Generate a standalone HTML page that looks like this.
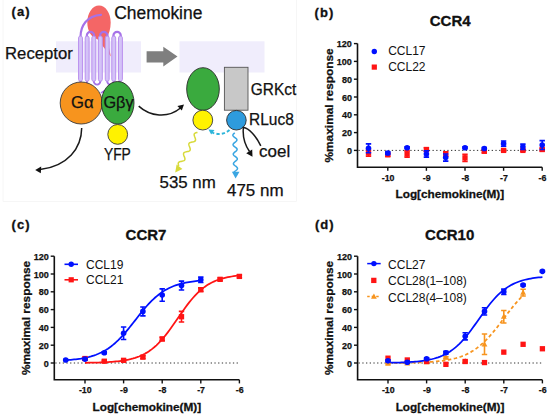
<!DOCTYPE html><html><head><meta charset="utf-8"><style>html,body{margin:0;padding:0;background:#fff;overflow:hidden}svg{display:block}text{font-family:"Liberation Sans",sans-serif}</style></head><body>
<svg width="550" height="418" viewBox="0 0 550 418">
<rect width="550" height="418" fill="#fff"/>
<path d="M3,0 V201.5 H296.5 V0" fill="none" stroke="#F6F6F6" stroke-width="1"/>
<text x="11.6" y="16.3" font-size="13" font-weight="bold" letter-spacing="1.1" fill="#111" stroke="#111" stroke-width="0.3">(a)</text>
<text x="314.6" y="16.8" font-size="13" font-weight="bold" letter-spacing="1.1" fill="#111" stroke="#111" stroke-width="0.3">(b)</text>
<text x="11.6" y="229.3" font-size="13" font-weight="bold" letter-spacing="1.1" fill="#111" stroke="#111" stroke-width="0.3">(c)</text>
<text x="314.9" y="229.3" font-size="13" font-weight="bold" letter-spacing="1.1" fill="#111" stroke="#111" stroke-width="0.3">(d)</text>
<rect x="56" y="41.3" width="85" height="31.2" fill="#F0EDFC"/>
<rect x="179.5" y="41.3" width="85" height="31.2" fill="#F0EDFC"/>
<path d="M146.6,51.3 H163.3 V46.7 L177.5,56.6 L163.3,66.5 V62.5 H146.6 Z" fill="#7F7F7F"/>
<path d="M99,5.5 C105.5,5.5 110.7,13 110.7,22.5 C110.7,29 108.8,34 107,37.5 L110.8,56.5 L97.5,39.3 C91.5,37.5 87.3,31 87.3,22.5 C87.3,13 92.5,5.5 99,5.5 Z" fill="#F46666"/>
<path d="M86.85,37.0 V35.70 A3.62,3.82 0 0 1 94.10,35.70 V37.0" fill="none" stroke="#A672E8" stroke-width="2.3"/>
<path d="M100.05,37.0 V35.70 A3.73,3.93 0 0 1 107.50,35.70 V37.0" fill="none" stroke="#A672E8" stroke-width="2.3"/>
<path d="M113.45,37.0 V35.70 A3.65,3.85 0 0 1 120.75,35.70 V37.0" fill="none" stroke="#A672E8" stroke-width="2.3"/>
<path d="M80.50,80.30 V81.3 A3.33,3.33 0 0 0 87.15,81.3 V80.30" fill="none" stroke="#A672E8" stroke-width="1.9"/>
<path d="M93.80,80.30 V81.3 A3.27,3.27 0 0 0 100.35,81.3 V80.30" fill="none" stroke="#A672E8" stroke-width="1.9"/>
<path d="M107.20,80.30 V81.3 A3.27,3.27 0 0 0 113.75,81.3 V80.30" fill="none" stroke="#A672E8" stroke-width="1.9"/>
<path d="M80.5,37.0 C80.5,26 87,15.5 101,14.8" fill="none" stroke="#A672E8" stroke-width="2.2" stroke-linecap="round"/>
<path d="M120.45,80.3 C121,88 106,88 101,93" fill="none" stroke="#A672E8" stroke-width="1.6"/>
<rect x="78.55" y="36.0" width="3.9" height="45.30" rx="1.95" fill="#D4C3F7" stroke="#BA90EF" stroke-width="1"/>
<rect x="85.20" y="36.0" width="3.9" height="45.30" rx="1.95" fill="#D4C3F7" stroke="#BA90EF" stroke-width="1"/>
<rect x="91.85" y="36.0" width="3.9" height="45.30" rx="1.95" fill="#D4C3F7" stroke="#BA90EF" stroke-width="1"/>
<rect x="98.40" y="36.0" width="3.9" height="45.30" rx="1.95" fill="#D4C3F7" stroke="#BA90EF" stroke-width="1"/>
<rect x="105.25" y="36.0" width="3.9" height="45.30" rx="1.95" fill="#D4C3F7" stroke="#BA90EF" stroke-width="1"/>
<rect x="111.80" y="36.0" width="3.9" height="45.30" rx="1.95" fill="#D4C3F7" stroke="#BA90EF" stroke-width="1"/>
<rect x="118.50" y="36.0" width="3.9" height="45.30" rx="1.95" fill="#D4C3F7" stroke="#BA90EF" stroke-width="1"/>
<circle cx="81.2" cy="103" r="21" fill="#F7941E" stroke="#3a3a3a" stroke-width="0.9"/>
<ellipse cx="117.7" cy="102.8" rx="16.3" ry="21.3" fill="#3AAA3E" stroke="#2a2a2a" stroke-width="0.9"/>
<circle cx="117.7" cy="134.4" r="9.9" fill="#FFF200" stroke="#3a3a3a" stroke-width="0.9"/>
<text x="114.2" y="18.6" font-size="17.6" fill="#111" stroke="#111" stroke-width="0.25" textLength="88.2" lengthAdjust="spacingAndGlyphs">Chemokine</text>
<text x="5.1" y="59" font-size="16.2" fill="#111" stroke="#111" stroke-width="0.25" textLength="67.6" lengthAdjust="spacingAndGlyphs">Receptor</text>
<text x="71.0" y="108.3" font-size="16" fill="#111" stroke="#111" stroke-width="0.25" textLength="22.6" lengthAdjust="spacingAndGlyphs">G&#945;</text>
<text x="103.4" y="108" font-size="16" fill="#111" stroke="#111" stroke-width="0.25" textLength="30.2" lengthAdjust="spacingAndGlyphs">G&#946;&#947;</text>
<text x="104" y="159.9" font-size="16" fill="#111" stroke="#111" stroke-width="0.25" textLength="26.8" lengthAdjust="spacingAndGlyphs">YFP</text>
<path d="M81.7,128 C81.5,148 68,166 40,169.6" fill="none" stroke="#1a1a1a" stroke-width="1.5"/>
<path d="M35.2,170 L41.2,166.5 L40.8,173.2 Z" fill="#111"/>
<path d="M138.7,106.1 C150,116.5 168,118.5 180.5,108" fill="none" stroke="#1a1a1a" stroke-width="1.5"/>
<path d="M184,104.5 L177.4,106 L181.8,110.4 Z" fill="#111"/>
<ellipse cx="203" cy="89" rx="16.3" ry="21.3" fill="#3AAA3E" stroke="#2a2a2a" stroke-width="0.9"/>
<circle cx="202.8" cy="120.1" r="9.9" fill="#FFF200" stroke="#3a3a3a" stroke-width="0.9"/>
<rect x="224.4" y="67.3" width="23.6" height="42.9" fill="#C8C8C8" stroke="#555" stroke-width="0.9"/>
<circle cx="236.4" cy="120.2" r="9.8" fill="#2E9BDD" stroke="#2a2a2a" stroke-width="0.9"/>
<text x="250.8" y="94.6" font-size="16" fill="#111" stroke="#111" stroke-width="0.25" textLength="45.4" lengthAdjust="spacingAndGlyphs">GRKct</text>
<text x="249.1" y="124.5" font-size="16" fill="#111" stroke="#111" stroke-width="0.25" textLength="44.7" lengthAdjust="spacingAndGlyphs">RLuc8</text>
<text x="259.1" y="157.3" font-size="16" fill="#111" stroke="#111" stroke-width="0.25" textLength="31.1" lengthAdjust="spacingAndGlyphs">coel</text>
<text x="159.5" y="188.0" font-size="17" fill="#111" stroke="#111" stroke-width="0.25" textLength="56.3" lengthAdjust="spacingAndGlyphs">535 nm</text>
<text x="227" y="196.3" font-size="17" fill="#111" stroke="#111" stroke-width="0.25" textLength="56.6" lengthAdjust="spacingAndGlyphs">475 nm</text>
<path d="M260.8,145.8 C256,136 249,128 243.4,127.4 C242.5,136 245,145 249.5,151.5" fill="none" stroke="#1a1a1a" stroke-width="1.5"/>
<path d="M252.5,156.8 L246.2,153.2 L252.2,149.6 Z" fill="#111"/>
<path d="M229.5,130 C224,135 216,135 211.5,132" fill="none" stroke="#2DB5DA" stroke-width="2" stroke-dasharray="3.2,2.2"/>
<path d="M208.5,129.6 L214.5,130 L211.2,134.6 Z" fill="#2DB5DA"/>
<path d="M197.50,132.40 L196.73,132.55 L196.01,132.73 L195.37,132.96 L194.84,133.24 L194.46,133.61 L194.22,134.05 L194.14,134.58 L194.19,135.19 L194.35,135.85 L194.59,136.56 L194.88,137.29 L195.15,138.02 L195.38,138.72 L195.53,139.38 L195.55,139.97 L195.44,140.48 L195.17,140.91 L194.75,141.26 L194.20,141.53 L193.54,141.74 L192.81,141.91 L192.04,142.07 L191.28,142.22 L190.57,142.41 L189.95,142.64 L189.45,142.95 L189.09,143.33 L188.89,143.79 L188.83,144.34 L188.91,144.95 L189.09,145.63 L189.35,146.35 L189.63,147.08 L189.90,147.80 L190.12,148.50 L190.24,149.14 L190.23,149.72 L190.09,150.21 L189.79,150.62 L189.35,150.96 L188.77,151.21 L188.09,151.42 L187.34,151.58 L186.57,151.73 L185.82,151.89 L185.13,152.09 L184.53,152.34 L184.06,152.65 L183.73,153.05 L183.56,153.53 L183.53,154.09 L183.63,154.72 L183.83,155.41 L184.10,156.13 L184.38,156.86 L184.64,157.59 L184.84,158.27 L184.94,158.90 L184.91,159.46 L184.73,159.94 L184.41,160.33 L183.93,160.65 L183.33,160.90 L182.64,161.09 L181.88,161.25 L181.11,161.40 L180.37,161.57 L179.69,161.77 L179.12,162.03 L178.67,162.36 L178.38,162.78 L178.24,163.28 L178.24,163.85 L178.36,164.50 L178.58,165.19 L178.85,165.92" fill="none" stroke="#D8DA3A" stroke-width="1.5"/>
<path d="M175.2,172.4 L176.6,164.4 L182.4,168.9 Z" fill="#D8DA3A"/>
<path d="M234.80,132.80 L234.16,133.32 L233.59,133.83 L233.15,134.34 L232.90,134.85 L232.86,135.35 L233.04,135.85 L233.42,136.35 L233.95,136.84 L234.59,137.33 L235.26,137.82 L235.90,138.31 L236.42,138.80 L236.78,139.30 L236.94,139.80 L236.88,140.30 L236.60,140.81 L236.15,141.32 L235.57,141.83 L234.93,142.35 L234.29,142.87 L233.73,143.38 L233.31,143.89 L233.08,144.40 L233.06,144.90 L233.26,145.40 L233.65,145.89 L234.21,146.39 L234.85,146.88 L235.52,147.36 L236.15,147.85 L236.66,148.35 L237.00,148.84 L237.13,149.34 L237.05,149.85 L236.76,150.36 L236.29,150.87 L235.70,151.38 L235.05,151.90 L234.42,152.41 L233.87,152.93 L233.47,153.44 L233.26,153.95 L233.26,154.45 L233.48,154.95 L233.90,155.44 L234.46,155.93 L235.11,156.42 L235.78,156.91 L236.39,157.40 L236.89,157.89 L237.21,158.39 L237.33,158.89 L237.22,159.40 L236.91,159.91 L236.43,160.42 L235.83,160.93 L235.18,161.45 L234.55,161.96 L234.01,162.48 L233.63,162.99 L233.44,163.49 L233.46,164.00 L233.71,164.49 L234.14,164.99 L234.71,165.48 L235.37,165.97 L236.04,166.46 L236.64,166.95 L237.12,167.44 L237.42,167.94 L237.52,168.44 L237.39,168.94 L237.06,169.45 L236.56,169.97 L235.96,170.48 L235.31,171.00 L234.68,171.51 L234.16,172.03 L233.79,172.54" fill="none" stroke="#3AA6E2" stroke-width="1.5"/>
<path d="M235.6,178.6 L231.9,171.8 L239.5,171.8 Z" fill="#3AA6E2"/>
<text x="450.2" y="26.2" font-size="15" font-weight="bold" text-anchor="middle" fill="#111" stroke="#111" stroke-width="0.3">CCR4</text>
<line x1="358.50" y1="150.4" x2="542.20" y2="150.4" stroke="#333" stroke-width="1" stroke-dasharray="1.3,2.4"/>
<path d="M357.5,43.60 V167.2 H542.20" fill="none" stroke="#111" stroke-width="1.6"/>
<line x1="353.90" y1="150.40" x2="357.5" y2="150.40" stroke="#111" stroke-width="1.4"/>
<text x="351.90" y="154.00" font-size="9" font-weight="bold" text-anchor="end" fill="#111" stroke="#111" stroke-width="0.25">0</text>
<line x1="353.90" y1="132.60" x2="357.5" y2="132.60" stroke="#111" stroke-width="1.4"/>
<text x="351.90" y="136.20" font-size="9" font-weight="bold" text-anchor="end" fill="#111" stroke="#111" stroke-width="0.25">20</text>
<line x1="353.90" y1="114.80" x2="357.5" y2="114.80" stroke="#111" stroke-width="1.4"/>
<text x="351.90" y="118.40" font-size="9" font-weight="bold" text-anchor="end" fill="#111" stroke="#111" stroke-width="0.25">40</text>
<line x1="353.90" y1="97.00" x2="357.5" y2="97.00" stroke="#111" stroke-width="1.4"/>
<text x="351.90" y="100.60" font-size="9" font-weight="bold" text-anchor="end" fill="#111" stroke="#111" stroke-width="0.25">60</text>
<line x1="353.90" y1="79.20" x2="357.5" y2="79.20" stroke="#111" stroke-width="1.4"/>
<text x="351.90" y="82.80" font-size="9" font-weight="bold" text-anchor="end" fill="#111" stroke="#111" stroke-width="0.25">80</text>
<line x1="353.90" y1="61.40" x2="357.5" y2="61.40" stroke="#111" stroke-width="1.4"/>
<text x="351.90" y="65.00" font-size="9" font-weight="bold" text-anchor="end" fill="#111" stroke="#111" stroke-width="0.25">100</text>
<line x1="353.90" y1="43.60" x2="357.5" y2="43.60" stroke="#111" stroke-width="1.4"/>
<text x="351.90" y="47.20" font-size="9" font-weight="bold" text-anchor="end" fill="#111" stroke="#111" stroke-width="0.25">120</text>
<line x1="387.80" y1="167.2" x2="387.80" y2="170.80" stroke="#111" stroke-width="1.4"/>
<text x="388.10" y="180.60" font-size="8.8" font-weight="bold" text-anchor="middle" fill="#111" stroke="#111" stroke-width="0.25">-10</text>
<line x1="426.40" y1="167.2" x2="426.40" y2="170.80" stroke="#111" stroke-width="1.4"/>
<text x="426.70" y="180.60" font-size="8.8" font-weight="bold" text-anchor="middle" fill="#111" stroke="#111" stroke-width="0.25">-9</text>
<line x1="465.00" y1="167.2" x2="465.00" y2="170.80" stroke="#111" stroke-width="1.4"/>
<text x="465.30" y="180.60" font-size="8.8" font-weight="bold" text-anchor="middle" fill="#111" stroke="#111" stroke-width="0.25">-8</text>
<line x1="503.60" y1="167.2" x2="503.60" y2="170.80" stroke="#111" stroke-width="1.4"/>
<text x="503.90" y="180.60" font-size="8.8" font-weight="bold" text-anchor="middle" fill="#111" stroke="#111" stroke-width="0.25">-7</text>
<line x1="542.20" y1="167.2" x2="542.20" y2="170.80" stroke="#111" stroke-width="1.4"/>
<text x="542.50" y="180.60" font-size="8.8" font-weight="bold" text-anchor="middle" fill="#111" stroke="#111" stroke-width="0.25">-6</text>
<text transform="translate(333.10,105.40) rotate(-90) scale(1,0.88)" x="0" y="0" font-size="11.9" font-weight="bold" text-anchor="middle" fill="#111" stroke="#111" stroke-width="0.3">%maximal response</text>
<text transform="translate(449.85,198.30) scale(1,0.92)" x="0" y="0" font-size="11.8" font-weight="bold" text-anchor="middle" fill="#111" stroke="#111" stroke-width="0.3">Log[chemokine(M)]</text>
<circle cx="374.30" cy="51.50" r="2.7" fill="#0010FF"/>
<text x="388.2" y="55.4" font-size="12" fill="#111">CCL17</text>
<rect x="371.70" y="64.50" width="5.2" height="5.2" fill="#FF1414"/>
<text x="388.2" y="71.0" font-size="12" fill="#111">CCL22</text>
<path d="M368.50,149.96 V156.19 M365.80,149.96 H371.20 M365.80,156.19 H371.20" stroke="#FF1414" stroke-width="1.6" fill="none"/>
<rect x="365.85" y="150.42" width="5.3" height="5.3" fill="#FF1414"/>
<path d="M387.80,153.52 V156.19 M385.10,153.52 H390.50 M385.10,156.19 H390.50" stroke="#FF1414" stroke-width="1.6" fill="none"/>
<rect x="385.15" y="152.20" width="5.3" height="5.3" fill="#FF1414"/>
<path d="M407.10,150.84 V157.08 M404.40,150.84 H409.80 M404.40,157.08 H409.80" stroke="#FF1414" stroke-width="1.6" fill="none"/>
<rect x="404.45" y="151.31" width="5.3" height="5.3" fill="#FF1414"/>
<path d="M426.40,147.73 V151.29 M423.70,147.73 H429.10 M423.70,151.29 H429.10" stroke="#FF1414" stroke-width="1.6" fill="none"/>
<rect x="423.75" y="146.86" width="5.3" height="5.3" fill="#FF1414"/>
<path d="M445.70,151.74 V156.19 M443.00,151.74 H448.40 M443.00,156.19 H448.40" stroke="#FF1414" stroke-width="1.6" fill="none"/>
<rect x="443.05" y="151.31" width="5.3" height="5.3" fill="#FF1414"/>
<path d="M465.00,154.23 V161.35 M462.30,154.23 H467.70 M462.30,161.35 H467.70" stroke="#FF1414" stroke-width="1.6" fill="none"/>
<rect x="462.35" y="155.14" width="5.3" height="5.3" fill="#FF1414"/>
<path d="M484.30,149.96 V152.62 M481.60,149.96 H487.00 M481.60,152.62 H487.00" stroke="#FF1414" stroke-width="1.6" fill="none"/>
<rect x="481.65" y="148.64" width="5.3" height="5.3" fill="#FF1414"/>
<path d="M503.60,149.51 V151.29 M500.90,149.51 H506.30 M500.90,151.29 H506.30" stroke="#FF1414" stroke-width="1.6" fill="none"/>
<rect x="500.95" y="147.75" width="5.3" height="5.3" fill="#FF1414"/>
<path d="M522.90,149.51 V151.29 M520.20,149.51 H525.60 M520.20,151.29 H525.60" stroke="#FF1414" stroke-width="1.6" fill="none"/>
<rect x="520.25" y="147.75" width="5.3" height="5.3" fill="#FF1414"/>
<path d="M542.20,148.18 V150.84 M539.50,148.18 H544.90 M539.50,150.84 H544.90" stroke="#FF1414" stroke-width="1.6" fill="none"/>
<rect x="539.55" y="146.86" width="5.3" height="5.3" fill="#FF1414"/>
<path d="M368.50,143.90 V152.80 M365.80,143.90 H371.20 M365.80,152.80 H371.20" stroke="#0010FF" stroke-width="1.6" fill="none"/>
<circle cx="368.50" cy="148.35" r="2.8" fill="#0010FF"/>
<path d="M387.80,151.74 V154.41 M385.10,151.74 H390.50 M385.10,154.41 H390.50" stroke="#0010FF" stroke-width="1.6" fill="none"/>
<circle cx="387.80" cy="153.07" r="2.8" fill="#0010FF"/>
<path d="M407.10,146.84 V148.62 M404.40,146.84 H409.80 M404.40,148.62 H409.80" stroke="#0010FF" stroke-width="1.6" fill="none"/>
<circle cx="407.10" cy="147.73" r="2.8" fill="#0010FF"/>
<path d="M426.40,150.84 V157.08 M423.70,150.84 H429.10 M423.70,157.08 H429.10" stroke="#0010FF" stroke-width="1.6" fill="none"/>
<circle cx="426.40" cy="153.96" r="2.8" fill="#0010FF"/>
<path d="M445.70,153.96 V161.08 M443.00,153.96 H448.40 M443.00,161.08 H448.40" stroke="#0010FF" stroke-width="1.6" fill="none"/>
<circle cx="445.70" cy="157.52" r="2.8" fill="#0010FF"/>
<path d="M465.00,146.84 V148.62 M462.30,146.84 H467.70 M462.30,148.62 H467.70" stroke="#0010FF" stroke-width="1.6" fill="none"/>
<circle cx="465.00" cy="147.73" r="2.8" fill="#0010FF"/>
<path d="M484.30,147.55 V149.33 M481.60,147.55 H487.00 M481.60,149.33 H487.00" stroke="#0010FF" stroke-width="1.6" fill="none"/>
<circle cx="484.30" cy="148.44" r="2.8" fill="#0010FF"/>
<path d="M503.60,140.97 V146.31 M500.90,140.97 H506.30 M500.90,146.31 H506.30" stroke="#0010FF" stroke-width="1.6" fill="none"/>
<circle cx="503.60" cy="143.64" r="2.8" fill="#0010FF"/>
<path d="M522.90,144.17 V149.51 M520.20,144.17 H525.60 M520.20,149.51 H525.60" stroke="#0010FF" stroke-width="1.6" fill="none"/>
<circle cx="522.90" cy="146.84" r="2.8" fill="#0010FF"/>
<path d="M542.20,140.61 V149.51 M539.50,140.61 H544.90 M539.50,149.51 H544.90" stroke="#0010FF" stroke-width="1.6" fill="none"/>
<circle cx="542.20" cy="145.06" r="2.8" fill="#0010FF"/>
<text x="146.0" y="239.9" font-size="15" font-weight="bold" text-anchor="middle" fill="#111" stroke="#111" stroke-width="0.3">CCR7</text>
<line x1="55.30" y1="363.0" x2="239.40" y2="363.0" stroke="#333" stroke-width="1" stroke-dasharray="1.3,2.4"/>
<path d="M54.3,256.20 V379.8 H239.40" fill="none" stroke="#111" stroke-width="1.6"/>
<line x1="50.70" y1="363.00" x2="54.3" y2="363.00" stroke="#111" stroke-width="1.4"/>
<text x="48.70" y="366.60" font-size="9" font-weight="bold" text-anchor="end" fill="#111" stroke="#111" stroke-width="0.25">0</text>
<line x1="50.70" y1="345.20" x2="54.3" y2="345.20" stroke="#111" stroke-width="1.4"/>
<text x="48.70" y="348.80" font-size="9" font-weight="bold" text-anchor="end" fill="#111" stroke="#111" stroke-width="0.25">20</text>
<line x1="50.70" y1="327.40" x2="54.3" y2="327.40" stroke="#111" stroke-width="1.4"/>
<text x="48.70" y="331.00" font-size="9" font-weight="bold" text-anchor="end" fill="#111" stroke="#111" stroke-width="0.25">40</text>
<line x1="50.70" y1="309.60" x2="54.3" y2="309.60" stroke="#111" stroke-width="1.4"/>
<text x="48.70" y="313.20" font-size="9" font-weight="bold" text-anchor="end" fill="#111" stroke="#111" stroke-width="0.25">60</text>
<line x1="50.70" y1="291.80" x2="54.3" y2="291.80" stroke="#111" stroke-width="1.4"/>
<text x="48.70" y="295.40" font-size="9" font-weight="bold" text-anchor="end" fill="#111" stroke="#111" stroke-width="0.25">80</text>
<line x1="50.70" y1="274.00" x2="54.3" y2="274.00" stroke="#111" stroke-width="1.4"/>
<text x="48.70" y="277.60" font-size="9" font-weight="bold" text-anchor="end" fill="#111" stroke="#111" stroke-width="0.25">100</text>
<line x1="50.70" y1="256.20" x2="54.3" y2="256.20" stroke="#111" stroke-width="1.4"/>
<text x="48.70" y="259.80" font-size="9" font-weight="bold" text-anchor="end" fill="#111" stroke="#111" stroke-width="0.25">120</text>
<line x1="85.00" y1="379.8" x2="85.00" y2="383.40" stroke="#111" stroke-width="1.4"/>
<text x="85.30" y="393.20" font-size="8.8" font-weight="bold" text-anchor="middle" fill="#111" stroke="#111" stroke-width="0.25">-10</text>
<line x1="123.60" y1="379.8" x2="123.60" y2="383.40" stroke="#111" stroke-width="1.4"/>
<text x="123.90" y="393.20" font-size="8.8" font-weight="bold" text-anchor="middle" fill="#111" stroke="#111" stroke-width="0.25">-9</text>
<line x1="162.20" y1="379.8" x2="162.20" y2="383.40" stroke="#111" stroke-width="1.4"/>
<text x="162.50" y="393.20" font-size="8.8" font-weight="bold" text-anchor="middle" fill="#111" stroke="#111" stroke-width="0.25">-8</text>
<line x1="200.80" y1="379.8" x2="200.80" y2="383.40" stroke="#111" stroke-width="1.4"/>
<text x="201.10" y="393.20" font-size="8.8" font-weight="bold" text-anchor="middle" fill="#111" stroke="#111" stroke-width="0.25">-7</text>
<line x1="239.40" y1="379.8" x2="239.40" y2="383.40" stroke="#111" stroke-width="1.4"/>
<text x="239.70" y="393.20" font-size="8.8" font-weight="bold" text-anchor="middle" fill="#111" stroke="#111" stroke-width="0.25">-6</text>
<text transform="translate(29.90,318.00) rotate(-90) scale(1,0.88)" x="0" y="0" font-size="11.9" font-weight="bold" text-anchor="middle" fill="#111" stroke="#111" stroke-width="0.3">%maximal response</text>
<text transform="translate(146.85,410.90) scale(1,0.92)" x="0" y="0" font-size="11.8" font-weight="bold" text-anchor="middle" fill="#111" stroke="#111" stroke-width="0.3">Log[chemokine(M)]</text>
<line x1="64.5" y1="264.3" x2="78" y2="264.3" stroke="#0010FF" stroke-width="1.6"/>
<circle cx="71.20" cy="264.30" r="2.7" fill="#0010FF"/>
<text x="86" y="268.9" font-size="12" fill="#111">CCL19</text>
<line x1="64.5" y1="279.8" x2="78" y2="279.8" stroke="#FF1414" stroke-width="1.6"/>
<rect x="68.60" y="277.20" width="5.2" height="5.2" fill="#FF1414"/>
<text x="86" y="284.4" font-size="12" fill="#111">CCL21</text>
<polyline points="65.70,360.18 67.39,360.06 69.08,359.94 70.77,359.80 72.46,359.64 74.14,359.47 75.83,359.28 77.52,359.07 79.21,358.83 80.90,358.58 82.59,358.29 84.28,357.98 85.97,357.63 87.65,357.25 89.34,356.83 91.03,356.37 92.72,355.86 94.41,355.31 96.10,354.70 97.79,354.04 99.47,353.32 101.16,352.53 102.85,351.67 104.54,350.74 106.23,349.74 107.92,348.65 109.61,347.49 111.30,346.23 112.98,344.89 114.67,343.47 116.36,341.95 118.05,340.35 119.74,338.67 121.43,336.90 123.12,335.05 124.81,333.13 126.49,331.15 128.18,329.11 129.87,327.02 131.56,324.90 133.25,322.75 134.94,320.59 136.63,318.43 138.32,316.27 140.01,314.14 141.69,312.04 143.38,309.99 145.07,307.99 146.76,306.05 148.45,304.18 150.14,302.39 151.83,300.68 153.52,299.05 155.20,297.52 156.89,296.06 158.58,294.70 160.27,293.42 161.96,292.23 163.65,291.12 165.34,290.10 167.03,289.15 168.71,288.27 170.40,287.46 172.09,286.72 173.78,286.04 175.47,285.42 177.16,284.85 178.85,284.33 180.53,283.86 182.22,283.43 183.91,283.03 185.60,282.68 187.29,282.36 188.98,282.06 190.67,281.80 192.36,281.56 194.05,281.34 195.73,281.14 197.42,280.97 199.11,280.81 200.80,280.66" fill="none" stroke="#0010FF" stroke-width="1.75"/>
<polyline points="85.00,362.80 86.93,362.77 88.86,362.74 90.79,362.70 92.72,362.66 94.65,362.62 96.58,362.57 98.51,362.51 100.44,362.44 102.37,362.37 104.30,362.28 106.23,362.19 108.16,362.08 110.09,361.95 112.02,361.82 113.95,361.66 115.88,361.48 117.81,361.28 119.74,361.05 121.67,360.79 123.60,360.51 125.53,360.18 127.46,359.81 129.39,359.40 131.32,358.93 133.25,358.41 135.18,357.83 137.11,357.18 139.04,356.45 140.97,355.64 142.90,354.74 144.83,353.74 146.76,352.63 148.69,351.42 150.62,350.08 152.55,348.62 154.48,347.02 156.41,345.30 158.34,343.43 160.27,341.43 162.20,339.29 164.13,337.03 166.06,334.64 167.99,332.14 169.92,329.54 171.85,326.85 173.78,324.11 175.71,321.31 177.64,318.50 179.57,315.69 181.50,312.89 183.43,310.15 185.36,307.46 187.29,304.86 189.22,302.36 191.15,299.97 193.08,297.71 195.01,295.57 196.94,293.57 198.87,291.70 200.80,289.98 202.73,288.38 204.66,286.92 206.59,285.58 208.52,284.37 210.45,283.26 212.38,282.26 214.31,281.36 216.24,280.55 218.17,279.82 220.10,279.17 222.03,278.59 223.96,278.07 225.89,277.60 227.82,277.19 229.75,276.82 231.68,276.49 233.61,276.21 235.54,275.95 237.47,275.72 239.40,275.52" fill="none" stroke="#FF1414" stroke-width="1.75"/>
<path d="M85.00,357.21 V359.88 M82.30,357.21 H87.70 M82.30,359.88 H87.70" stroke="#FF1414" stroke-width="1.6" fill="none"/>
<rect x="82.35" y="355.90" width="5.3" height="5.3" fill="#FF1414"/>
<path d="M104.30,360.33 V362.11 M101.60,360.33 H107.00 M101.60,362.11 H107.00" stroke="#FF1414" stroke-width="1.6" fill="none"/>
<rect x="101.65" y="358.57" width="5.3" height="5.3" fill="#FF1414"/>
<path d="M123.60,359.44 V361.22 M120.90,359.44 H126.30 M120.90,361.22 H126.30" stroke="#FF1414" stroke-width="1.6" fill="none"/>
<rect x="120.95" y="357.68" width="5.3" height="5.3" fill="#FF1414"/>
<path d="M142.90,355.79 V358.46 M140.20,355.79 H145.60 M140.20,358.46 H145.60" stroke="#FF1414" stroke-width="1.6" fill="none"/>
<rect x="140.25" y="354.48" width="5.3" height="5.3" fill="#FF1414"/>
<path d="M162.20,337.19 V340.75 M159.50,337.19 H164.90 M159.50,340.75 H164.90" stroke="#FF1414" stroke-width="1.6" fill="none"/>
<rect x="159.55" y="336.32" width="5.3" height="5.3" fill="#FF1414"/>
<path d="M181.50,311.38 V322.06 M178.80,311.38 H184.20 M178.80,322.06 H184.20" stroke="#FF1414" stroke-width="1.6" fill="none"/>
<rect x="178.85" y="314.07" width="5.3" height="5.3" fill="#FF1414"/>
<path d="M200.80,287.88 V291.44 M198.10,287.88 H203.50 M198.10,291.44 H203.50" stroke="#FF1414" stroke-width="1.6" fill="none"/>
<rect x="198.15" y="287.01" width="5.3" height="5.3" fill="#FF1414"/>
<path d="M220.10,278.00 V280.68 M217.40,278.00 H222.80 M217.40,280.68 H222.80" stroke="#FF1414" stroke-width="1.6" fill="none"/>
<rect x="217.45" y="276.69" width="5.3" height="5.3" fill="#FF1414"/>
<path d="M239.40,275.07 V277.74 M236.70,275.07 H242.10 M236.70,277.74 H242.10" stroke="#FF1414" stroke-width="1.6" fill="none"/>
<rect x="236.75" y="273.75" width="5.3" height="5.3" fill="#FF1414"/>
<path d="M65.70,359.53 V360.42 M63.00,359.53 H68.40 M63.00,360.42 H68.40" stroke="#0010FF" stroke-width="1.6" fill="none"/>
<circle cx="65.70" cy="359.97" r="2.8" fill="#0010FF"/>
<path d="M85.00,358.19 V359.97 M82.30,358.19 H87.70 M82.30,359.97 H87.70" stroke="#0010FF" stroke-width="1.6" fill="none"/>
<circle cx="85.00" cy="359.08" r="2.8" fill="#0010FF"/>
<path d="M104.30,351.88 V353.65 M101.60,351.88 H107.00 M101.60,353.65 H107.00" stroke="#0010FF" stroke-width="1.6" fill="none"/>
<circle cx="104.30" cy="352.76" r="2.8" fill="#0010FF"/>
<path d="M123.60,327.04 V339.50 M120.90,327.04 H126.30 M120.90,339.50 H126.30" stroke="#0010FF" stroke-width="1.6" fill="none"/>
<circle cx="123.60" cy="333.27" r="2.8" fill="#0010FF"/>
<path d="M142.90,306.93 V315.83 M140.20,306.93 H145.60 M140.20,315.83 H145.60" stroke="#0010FF" stroke-width="1.6" fill="none"/>
<circle cx="142.90" cy="311.38" r="2.8" fill="#0010FF"/>
<path d="M162.20,288.86 V301.32 M159.50,288.86 H164.90 M159.50,301.32 H164.90" stroke="#0010FF" stroke-width="1.6" fill="none"/>
<circle cx="162.20" cy="295.09" r="2.8" fill="#0010FF"/>
<path d="M181.50,281.12 V290.02 M178.80,281.12 H184.20 M178.80,290.02 H184.20" stroke="#0010FF" stroke-width="1.6" fill="none"/>
<circle cx="181.50" cy="285.57" r="2.8" fill="#0010FF"/>
<path d="M200.80,277.12 V282.45 M198.10,277.12 H203.50 M198.10,282.45 H203.50" stroke="#0010FF" stroke-width="1.6" fill="none"/>
<circle cx="200.80" cy="279.78" r="2.8" fill="#0010FF"/>
<text x="449.7" y="239.9" font-size="15" font-weight="bold" text-anchor="middle" fill="#111" stroke="#111" stroke-width="0.3">CCR10</text>
<line x1="358.60" y1="363.0" x2="542.40" y2="363.0" stroke="#333" stroke-width="1" stroke-dasharray="1.3,2.4"/>
<path d="M357.6,256.20 V379.8 H542.40" fill="none" stroke="#111" stroke-width="1.6"/>
<line x1="354.00" y1="363.00" x2="357.6" y2="363.00" stroke="#111" stroke-width="1.4"/>
<text x="352.00" y="366.60" font-size="9" font-weight="bold" text-anchor="end" fill="#111" stroke="#111" stroke-width="0.25">0</text>
<line x1="354.00" y1="345.20" x2="357.6" y2="345.20" stroke="#111" stroke-width="1.4"/>
<text x="352.00" y="348.80" font-size="9" font-weight="bold" text-anchor="end" fill="#111" stroke="#111" stroke-width="0.25">20</text>
<line x1="354.00" y1="327.40" x2="357.6" y2="327.40" stroke="#111" stroke-width="1.4"/>
<text x="352.00" y="331.00" font-size="9" font-weight="bold" text-anchor="end" fill="#111" stroke="#111" stroke-width="0.25">40</text>
<line x1="354.00" y1="309.60" x2="357.6" y2="309.60" stroke="#111" stroke-width="1.4"/>
<text x="352.00" y="313.20" font-size="9" font-weight="bold" text-anchor="end" fill="#111" stroke="#111" stroke-width="0.25">60</text>
<line x1="354.00" y1="291.80" x2="357.6" y2="291.80" stroke="#111" stroke-width="1.4"/>
<text x="352.00" y="295.40" font-size="9" font-weight="bold" text-anchor="end" fill="#111" stroke="#111" stroke-width="0.25">80</text>
<line x1="354.00" y1="274.00" x2="357.6" y2="274.00" stroke="#111" stroke-width="1.4"/>
<text x="352.00" y="277.60" font-size="9" font-weight="bold" text-anchor="end" fill="#111" stroke="#111" stroke-width="0.25">100</text>
<line x1="354.00" y1="256.20" x2="357.6" y2="256.20" stroke="#111" stroke-width="1.4"/>
<text x="352.00" y="259.80" font-size="9" font-weight="bold" text-anchor="end" fill="#111" stroke="#111" stroke-width="0.25">120</text>
<line x1="388.00" y1="379.8" x2="388.00" y2="383.40" stroke="#111" stroke-width="1.4"/>
<text x="388.30" y="393.20" font-size="8.8" font-weight="bold" text-anchor="middle" fill="#111" stroke="#111" stroke-width="0.25">-10</text>
<line x1="426.60" y1="379.8" x2="426.60" y2="383.40" stroke="#111" stroke-width="1.4"/>
<text x="426.90" y="393.20" font-size="8.8" font-weight="bold" text-anchor="middle" fill="#111" stroke="#111" stroke-width="0.25">-9</text>
<line x1="465.20" y1="379.8" x2="465.20" y2="383.40" stroke="#111" stroke-width="1.4"/>
<text x="465.50" y="393.20" font-size="8.8" font-weight="bold" text-anchor="middle" fill="#111" stroke="#111" stroke-width="0.25">-8</text>
<line x1="503.80" y1="379.8" x2="503.80" y2="383.40" stroke="#111" stroke-width="1.4"/>
<text x="504.10" y="393.20" font-size="8.8" font-weight="bold" text-anchor="middle" fill="#111" stroke="#111" stroke-width="0.25">-7</text>
<line x1="542.40" y1="379.8" x2="542.40" y2="383.40" stroke="#111" stroke-width="1.4"/>
<text x="542.70" y="393.20" font-size="8.8" font-weight="bold" text-anchor="middle" fill="#111" stroke="#111" stroke-width="0.25">-6</text>
<text transform="translate(333.20,318.00) rotate(-90) scale(1,0.88)" x="0" y="0" font-size="11.9" font-weight="bold" text-anchor="middle" fill="#111" stroke="#111" stroke-width="0.3">%maximal response</text>
<text transform="translate(450.00,410.90) scale(1,0.92)" x="0" y="0" font-size="11.8" font-weight="bold" text-anchor="middle" fill="#111" stroke="#111" stroke-width="0.3">Log[chemokine(M)]</text>
<line x1="367.2" y1="263.6" x2="380.7" y2="263.6" stroke="#0010FF" stroke-width="1.5"/>
<circle cx="373.90" cy="263.60" r="2.7" fill="#0010FF"/>
<text x="388.1" y="268.7" font-size="12" fill="#111">CCL27</text>
<rect x="371.15" y="277.75" width="5.3" height="5.3" fill="#FF1414"/>
<text x="388.1" y="285.0" font-size="12" fill="#111">CCL28(1&#8211;108)</text>
<line x1="367.2" y1="296.5" x2="380.7" y2="296.5" stroke="#F7941E" stroke-width="1.6" stroke-dasharray="2.5,2"/>
<path d="M373.90,293.47 L376.80,298.69 L371.00,298.69 Z" fill="#F7941E"/>
<text x="388.1" y="301.6" font-size="12" fill="#111">CCL28(4&#8211;108)</text>
<polyline points="388.00,362.91 389.69,362.90 391.38,362.89 393.07,362.88 394.76,362.87 396.44,362.85 398.13,362.84 399.82,362.82 401.51,362.80 403.20,362.78 404.89,362.76 406.58,362.73 408.26,362.70 409.95,362.67 411.64,362.64 413.33,362.60 415.02,362.56 416.71,362.51 418.40,362.46 420.09,362.40 421.77,362.34 423.46,362.27 425.15,362.19 426.84,362.11 428.53,362.01 430.22,361.91 431.91,361.80 433.60,361.67 435.28,361.53 436.97,361.38 438.66,361.21 440.35,361.02 442.04,360.82 443.73,360.59 445.42,360.35 447.11,360.07 448.79,359.78 450.48,359.45 452.17,359.09 453.86,358.69 455.55,358.26 457.24,357.79 458.93,357.27 460.62,356.71 462.31,356.09 463.99,355.42 465.68,354.69 467.37,353.90 469.06,353.05 470.75,352.12 472.44,351.12 474.13,350.05 475.81,348.89 477.50,347.66 479.19,346.33 480.88,344.93 482.57,343.43 484.26,341.85 485.95,340.18 487.64,338.43 489.32,336.60 491.01,334.69 492.70,332.71 494.39,330.67 496.08,328.57 497.77,326.42 499.46,324.23 501.15,322.01 502.83,319.78 504.52,317.54 506.21,315.30 507.90,313.08 509.59,310.89 511.28,308.74 512.97,306.63 514.66,304.57 516.35,302.59 518.03,300.67 519.72,298.82 521.41,297.06 523.10,295.38" fill="none" stroke="#F7941E" stroke-width="1.75" stroke-dasharray="3.5,2.5"/>
<polyline points="388.00,362.77 389.93,362.74 391.86,362.71 393.79,362.67 395.72,362.63 397.65,362.57 399.58,362.52 401.51,362.45 403.44,362.38 405.37,362.30 407.30,362.20 409.23,362.10 411.16,361.98 413.09,361.84 415.02,361.68 416.95,361.51 418.88,361.31 420.81,361.09 422.74,360.84 424.67,360.56 426.60,360.24 428.53,359.88 430.46,359.47 432.39,359.02 434.32,358.51 436.25,357.93 438.18,357.30 440.11,356.58 442.04,355.79 443.97,354.90 445.90,353.92 447.83,352.84 449.76,351.65 451.69,350.34 453.62,348.90 455.55,347.34 457.48,345.65 459.41,343.82 461.34,341.86 463.27,339.77 465.20,337.55 467.13,335.20 469.06,332.75 470.99,330.21 472.92,327.58 474.85,324.88 476.78,322.15 478.71,319.39 480.64,316.63 482.57,313.90 484.50,311.20 486.43,308.57 488.36,306.03 490.29,303.58 492.22,301.23 494.15,299.01 496.08,296.92 498.01,294.96 499.94,293.13 501.87,291.44 503.80,289.88 505.73,288.44 507.66,287.13 509.59,285.94 511.52,284.86 513.45,283.88 515.38,282.99 517.31,282.20 519.24,281.48 521.17,280.85 523.10,280.27 525.03,279.76 526.96,279.31 528.89,278.90 530.82,278.54 532.75,278.22 534.68,277.94 536.61,277.69 538.54,277.47 540.47,277.27 542.40,277.10" fill="none" stroke="#0010FF" stroke-width="1.75"/>
<path d="M388.00,363.18 V364.07 M385.30,363.18 H390.70 M385.30,364.07 H390.70" stroke="#F7941E" stroke-width="1.6" fill="none"/>
<path d="M388.00,360.49 L390.90,365.71 L385.10,365.71 Z" fill="#F7941E"/>
<path d="M407.30,363.00 V363.89 M404.60,363.00 H410.00 M404.60,363.89 H410.00" stroke="#F7941E" stroke-width="1.6" fill="none"/>
<path d="M407.30,360.31 L410.20,365.53 L404.40,365.53 Z" fill="#F7941E"/>
<path d="M426.60,361.67 V362.56 M423.90,361.67 H429.30 M423.90,362.56 H429.30" stroke="#F7941E" stroke-width="1.6" fill="none"/>
<path d="M426.60,358.98 L429.50,364.20 L423.70,364.20 Z" fill="#F7941E"/>
<path d="M445.90,356.77 V358.55 M443.20,356.77 H448.60 M443.20,358.55 H448.60" stroke="#F7941E" stroke-width="1.6" fill="none"/>
<path d="M445.90,354.53 L448.80,359.75 L443.00,359.75 Z" fill="#F7941E"/>
<path d="M465.20,360.33 V362.11 M462.50,360.33 H467.90 M462.50,362.11 H467.90" stroke="#F7941E" stroke-width="1.6" fill="none"/>
<path d="M465.20,358.09 L468.10,363.31 L462.30,363.31 Z" fill="#F7941E"/>
<path d="M484.50,334.07 V354.55 M481.80,334.07 H487.20 M481.80,354.55 H487.20" stroke="#F7941E" stroke-width="1.6" fill="none"/>
<path d="M484.50,341.18 L487.40,346.40 L481.60,346.40 Z" fill="#F7941E"/>
<path d="M503.80,310.49 V322.95 M501.10,310.49 H506.50 M501.10,322.95 H506.50" stroke="#F7941E" stroke-width="1.6" fill="none"/>
<path d="M503.80,313.59 L506.70,318.81 L500.90,318.81 Z" fill="#F7941E"/>
<path d="M523.10,289.31 V296.07 M520.40,289.31 H525.80 M520.40,296.07 H525.80" stroke="#F7941E" stroke-width="1.6" fill="none"/>
<path d="M523.10,289.56 L526.00,294.78 L520.20,294.78 Z" fill="#F7941E"/>
<rect x="385.35" y="355.54" width="5.3" height="5.3" fill="#FF1414"/>
<rect x="404.65" y="357.32" width="5.3" height="5.3" fill="#FF1414"/>
<rect x="423.95" y="358.84" width="5.3" height="5.3" fill="#FF1414"/>
<rect x="443.25" y="361.69" width="5.3" height="5.3" fill="#FF1414"/>
<rect x="462.55" y="358.84" width="5.3" height="5.3" fill="#FF1414"/>
<rect x="481.85" y="359.91" width="5.3" height="5.3" fill="#FF1414"/>
<rect x="501.15" y="349.49" width="5.3" height="5.3" fill="#FF1414"/>
<rect x="520.45" y="341.66" width="5.3" height="5.3" fill="#FF1414"/>
<rect x="539.75" y="346.11" width="5.3" height="5.3" fill="#FF1414"/>
<path d="M388.00,359.97 V361.75 M385.30,359.97 H390.70 M385.30,361.75 H390.70" stroke="#0010FF" stroke-width="1.6" fill="none"/>
<circle cx="388.00" cy="360.86" r="2.8" fill="#0010FF"/>
<path d="M407.30,361.31 V363.09 M404.60,361.31 H410.00 M404.60,363.09 H410.00" stroke="#0010FF" stroke-width="1.6" fill="none"/>
<circle cx="407.30" cy="362.20" r="2.8" fill="#0010FF"/>
<path d="M426.60,357.84 V359.62 M423.90,357.84 H429.30 M423.90,359.62 H429.30" stroke="#0010FF" stroke-width="1.6" fill="none"/>
<circle cx="426.60" cy="358.73" r="2.8" fill="#0010FF"/>
<path d="M445.90,351.34 V354.01 M443.20,351.34 H448.60 M443.20,354.01 H448.60" stroke="#0010FF" stroke-width="1.6" fill="none"/>
<circle cx="445.90" cy="352.68" r="2.8" fill="#0010FF"/>
<path d="M465.20,332.74 V339.86 M462.50,332.74 H467.90 M462.50,339.86 H467.90" stroke="#0010FF" stroke-width="1.6" fill="none"/>
<circle cx="465.20" cy="336.30" r="2.8" fill="#0010FF"/>
<path d="M484.50,307.82 V314.94 M481.80,307.82 H487.20 M481.80,314.94 H487.20" stroke="#0010FF" stroke-width="1.6" fill="none"/>
<circle cx="484.50" cy="311.38" r="2.8" fill="#0010FF"/>
<path d="M503.80,289.13 V294.47 M501.10,289.13 H506.50 M501.10,294.47 H506.50" stroke="#0010FF" stroke-width="1.6" fill="none"/>
<circle cx="503.80" cy="291.80" r="2.8" fill="#0010FF"/>
<path d="M523.10,284.24 V286.01 M520.40,284.24 H525.80 M520.40,286.01 H525.80" stroke="#0010FF" stroke-width="1.6" fill="none"/>
<circle cx="523.10" cy="285.12" r="2.8" fill="#0010FF"/>
<path d="M542.40,270.44 V272.22 M539.70,270.44 H545.10 M539.70,272.22 H545.10" stroke="#0010FF" stroke-width="1.6" fill="none"/>
<circle cx="542.40" cy="271.33" r="2.8" fill="#0010FF"/>
</svg></body></html>
